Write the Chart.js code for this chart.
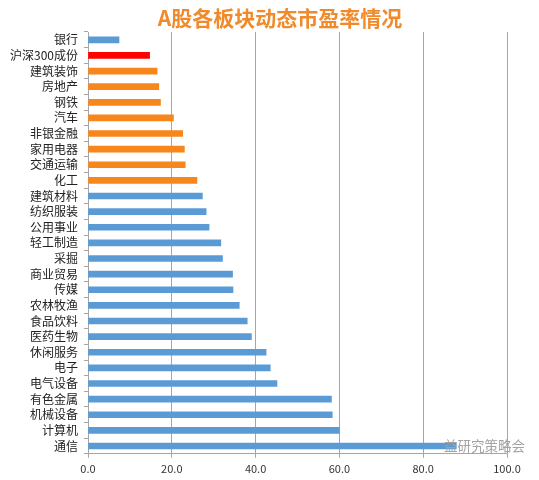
<!DOCTYPE html>
<html>
<head>
<meta charset="utf-8">
<script src="https://cdn.jsdelivr.net/npm/chart.js@4.4.1/dist/chart.umd.min.js"></script>
<style>
  body { margin: 0; background: #fff; }
  .wrap { position: relative; width: 539px; height: 480px; }
  .title {
    position: absolute; left: 0; top: 3px; width: 560px; text-align: center;
    font: bold 21px "Noto Sans CJK SC", sans-serif; color: #f08a2a; line-height: 28px;
  }
  .mark {
    position: absolute; left: 444px; top: 435px;
    font: 13.5px "Noto Sans CJK SC", sans-serif; color: #a3a3a3;
  }
</style>
</head>
<body>
<div class="wrap">
  <canvas id="pe" width="539" height="480"></canvas>
  <div class="title">A股各板块动态市盈率情况</div>
  <div class="mark">益研究策略会</div>
</div>
<script>
// sectors, top to bottom
const sectors = ["银行", "沪深300成份", "建筑装饰", "房地产", "钢铁", "汽车", "非银金融", "家用电器",
  "交通运输", "化工", "建筑材料", "纺织服装", "公用事业", "轻工制造", "采掘", "商业贸易", "传媒",
  "农林牧渔", "食品饮料", "医药生物", "休闲服务", "电子", "电气设备", "有色金属", "机械设备", "计算机", "通信"];
const peValues = [7.4, 14.7, 16.5, 16.9, 17.3, 20.4, 22.6, 23.0, 23.2, 26.0, 27.3, 28.2, 28.9, 31.7, 32.1,
  34.5, 34.6, 36.1, 38.0, 39.0, 42.5, 43.5, 45.1, 58.1, 58.3, 60.0, 87.9];
const xTicks = [0, 20, 40, 60, 80, 100];
const benchmark = ["沪深300成份"];
const belowIndex = ["建筑装饰", "房地产", "钢铁", "汽车", "非银金融", "家用电器", "交通运输", "化工"];

const barColors = sectors.map(s =>
  benchmark.includes(s) ? "#ff0000" : belowIndex.includes(s) ? "#f7861c" : "#5b9bd5");

new Chart(document.getElementById("pe"), {
  type: "bar",
  data: {
    labels: sectors,
    datasets: [{
      data: peValues,
      backgroundColor: barColors,
      barThickness: 6,
    }],
  },
  options: {
    indexAxis: "y",
    responsive: false,
    animation: false,
    layout: { padding: { left: 4, right: 32, top: 32, bottom: 1 } },
    plugins: {
      legend: { display: false },
      tooltip: { enabled: false },
    },
    scales: {
      x: {
        min: 0,
        max: 100,
        afterBuildTicks: axis => { axis.ticks = xTicks.map(v => ({ value: v })); },
        ticks: {
          callback: v => v.toFixed(1),
          color: "#333",
          font: { family: "Noto Sans CJK SC", size: 11 },
          padding: 4,
        },
        grid: { color: "#a6a6a6", drawTicks: true, tickLength: 4 },
        border: { color: "#a6a6a6" },
      },
      y: {
        afterFit: axis => { axis.width = 84; },
        ticks: {
          color: "#222",
          font: { family: "Noto Sans CJK SC", size: 12 },
          padding: 6,
          autoSkip: false,
        },
        grid: { offset: true, drawOnChartArea: false, tickLength: 4, color: "#a6a6a6" },
        border: { color: "#a6a6a6" },
      },
    },
  },
});
</script>
</body>
</html>
